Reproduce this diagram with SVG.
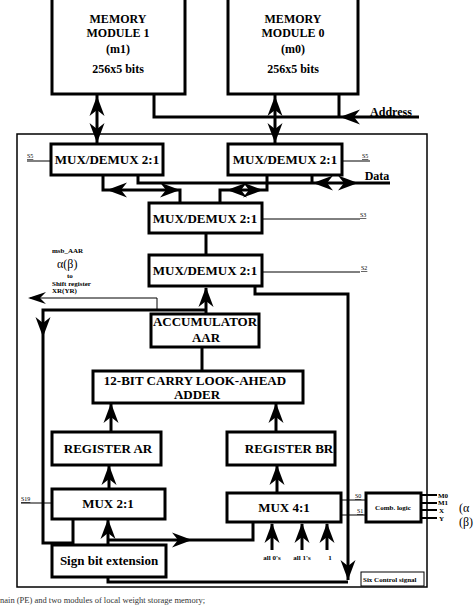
<svg xmlns="http://www.w3.org/2000/svg" xmlns:xlink="http://www.w3.org/1999/xlink" width="474" height="606" viewBox="0 0 474 606">
<defs>
<style>
.box{fill:#fff;stroke:#000;stroke-width:3}
.frame{fill:none;stroke:#000;stroke-width:1.5}
.c{fill:none;stroke:#000;stroke-width:3}
.t{fill:none;stroke:#000;stroke-width:1}
.m{fill:none;stroke:#000;stroke-width:2.2}
.lb{font-family:"Liberation Serif",serif;font-weight:bold;font-size:13px;text-anchor:middle;fill:#000}
.mm{font-family:"Liberation Serif",serif;font-weight:bold;font-size:12px;text-anchor:middle;fill:#000}
.sm{font-family:"Liberation Serif",serif;font-weight:bold;font-size:7px;fill:#000}
.sg{font-family:"Liberation Serif",serif;font-size:6px;fill:#000;text-decoration:underline}
.gr{font-family:"Liberation Serif",serif;font-size:12px;fill:#000}
</style>
<path id="ah" d="M0,0 L-20,-7.5 L-14,0 L-20,7.5 Z" fill="#000"/>
<path id="ahs" d="M0,0 L-18,-6 L-12,0 L-18,6 Z" fill="#000"/>
</defs>
<rect width="474" height="606" fill="#fff"/>

<g id="frame">
<rect class="frame" x="17" y="134" width="410" height="453"/>
</g>

<g id="connectors">
<path class="c" d="M97,94 V143"/>
<use xlink:href="#ah" transform="translate(97,96) rotate(-90)"/>
<use xlink:href="#ah" transform="translate(97,143) rotate(90)"/>
<path class="c" d="M275,94 V143"/>
<use xlink:href="#ah" transform="translate(275,96) rotate(-90)"/>
<use xlink:href="#ah" transform="translate(275,143) rotate(90)"/>
<path class="c" d="M154,94 V117 H419 M339,94 V117"/>
<use xlink:href="#ah" transform="translate(340,117) rotate(180)"/>
<path class="c" d="M103,175 V190 H180 V203"/>
<use xlink:href="#ah" transform="translate(107,190) rotate(180)"/>
<use xlink:href="#ah" transform="translate(180,190)"/>
<path class="c" d="M138,175 V183 H390 M312,175 V183"/>
<path class="c" d="M267,175 V190 H220 V203"/>
<use xlink:href="#ah" transform="translate(227,190) rotate(180)"/>
<use xlink:href="#ah" transform="translate(263,190)"/>
<use xlink:href="#ah" transform="translate(313,183) rotate(180)"/>
<use xlink:href="#ah" transform="translate(358,183)"/>
<path class="c" d="M206,233 V255"/>
<path class="c" d="M206,314 V288"/>
<use xlink:href="#ah" transform="translate(206,287) rotate(-90)"/>
<path class="c" d="M206,310 H43 V543 H73 V519"/>
<use xlink:href="#ah" transform="translate(43,337) rotate(90)"/>
<path class="t" d="M157,310 V298 H30"/>
<use xlink:href="#ahs" transform="translate(28,298) rotate(180)"/>
<path class="c" d="M255,286 V294 H348 V580"/>
<use xlink:href="#ah" transform="translate(348,580) rotate(90)"/>
<path class="c" d="M108,577 V582 H348"/>
<path class="c" d="M202,347 V371"/>
<path class="c" d="M111,432 V404"/>
<use xlink:href="#ah" transform="translate(111,403) rotate(-90)"/>
<path class="c" d="M276,432 V404"/>
<use xlink:href="#ah" transform="translate(276,403) rotate(-90)"/>
<path class="c" d="M109,489 V466"/>
<use xlink:href="#ah" transform="translate(109,465) rotate(-90)"/>
<path class="c" d="M277,493 V466"/>
<use xlink:href="#ah" transform="translate(277,465) rotate(-90)"/>
<path class="c" d="M108,545 V520"/>
<use xlink:href="#ah" transform="translate(108,519) rotate(-90)"/>
<path class="c" d="M108,540 H253 V522"/>
<use xlink:href="#ah" transform="translate(192,540)"/>
<path class="c" d="M272,550 V524 M302,550 V524 M327,550 V524"/>
<use xlink:href="#ah" transform="translate(272,523) rotate(-90)"/>
<use xlink:href="#ah" transform="translate(302,523) rotate(-90)"/>
<use xlink:href="#ah" transform="translate(327,523) rotate(-90)"/>
<path class="t" d="M27,161 H51 M342,161 H370 M262,219 H360 M262,272 H360 M21,503 H52 M341,500 H366 M341,515 H366"/>
<path class="m" d="M421,495 H437 M421,503 H437 M421,510 H437 M421,518 H437"/>
</g>

<g id="mem1">
<rect class="box" x="52" y="-3" width="133" height="97"/>
<text class="mm" x="118" y="23">MEMORY</text>
<text class="mm" x="118" y="37">MODULE 1</text>
<text class="mm" x="118" y="53">(m1)</text>
<text class="mm" x="118" y="73">256x5 bits</text>
</g>
<g id="mem0">
<rect class="box" x="228" y="-3" width="130" height="97"/>
<text class="mm" x="293" y="23">MEMORY</text>
<text class="mm" x="293" y="37">MODULE 0</text>
<text class="mm" x="293" y="53">(m0)</text>
<text class="mm" x="293" y="73">256x5 bits</text>
</g>
<g id="address">
<text class="mm" x="391" y="116">Address</text>
</g>
<g id="data">
<text class="mm" x="377" y="180">Data</text>
</g>
<g id="muxL">
<rect class="box" x="51" y="144" width="112" height="31"/>
<text class="lb" x="107" y="164">MUX/DEMUX 2:1</text>
<text class="sg" x="27" y="158">S5</text>
</g>
<g id="muxR">
<rect class="box" x="228" y="144" width="114" height="31"/>
<text class="lb" x="285" y="164">MUX/DEMUX 2:1</text>
<text class="sg" x="362" y="158">S5</text>
</g>
<g id="muxC">
<rect class="box" x="149" y="203" width="113" height="30"/>
<text class="lb" x="205" y="223">MUX/DEMUX 2:1</text>
<text class="sg" x="360" y="217">S3</text>
</g>
<g id="muxD">
<rect class="box" x="149" y="255" width="113" height="31"/>
<text class="lb" x="205" y="275">MUX/DEMUX 2:1</text>
<text class="sg" x="361" y="270">S2</text>
</g>
<g id="shiftlabel">
<text class="sm" x="52" y="253">msb_AAR</text>
<text class="gr" x="57" y="268">α(β)</text>
<text class="sm" x="67" y="278">to</text>
<text class="sm" x="52" y="286">Shift register</text>
<text class="sm" x="52" y="293">XR(YR)</text>
</g>
<g id="acc">
<rect class="box" x="151" y="314" width="108" height="33"/>
<text class="lb" x="205" y="326">ACCUMULATOR</text>
<text class="lb" x="206" y="342">AAR</text>
</g>
<g id="adder">
<rect class="box" x="93" y="371" width="210" height="32"/>
<text class="lb" x="195" y="385">12-BIT CARRY LOOK-AHEAD</text>
<text class="lb" x="197" y="399">ADDER</text>
</g>
<g id="regAR">
<rect class="box" x="52" y="432" width="109" height="33"/>
<text class="lb" x="108" y="453">REGISTER AR</text>
</g>
<g id="regBR">
<rect class="box" x="227" y="432" width="108" height="33"/>
<text class="lb" x="289" y="453">REGISTER BR</text>
</g>
<g id="mux21">
<rect class="box" x="52" y="489" width="113" height="30"/>
<text class="lb" x="108" y="508">MUX 2:1</text>
<text class="sg" x="21" y="501">S19</text>
</g>
<g id="mux41">
<rect class="box" x="227" y="493" width="114" height="29"/>
<text class="lb" x="284" y="512">MUX 4:1</text>
<text class="sg" x="355" y="498">S0</text>
<text class="sg" x="357" y="513">S1</text>
</g>
<g id="inputs">
<text class="sm" x="272" y="560" text-anchor="middle" font-size="6.5">all 0's</text>
<text class="sm" x="302" y="560" text-anchor="middle" font-size="6.5">all 1's</text>
<text class="sm" x="330" y="560" text-anchor="middle" font-size="6.5">1</text>
</g>
<g id="signext">
<rect class="box" x="52" y="545" width="114" height="32"/>
<text class="lb" x="109" y="565">Sign bit extension</text>
</g>
<g id="comb">
<rect class="box" x="366" y="493" width="55" height="29"/>
<text class="sm" x="393" y="510" text-anchor="middle" font-size="7.5">Comb. logic</text>
<text class="sm" x="438" y="498">M0</text>
<text class="sm" x="438" y="505">M1</text>
<text class="sm" x="439" y="513">X</text>
<text class="sm" x="439" y="521">Y</text>
<text class="gr" x="459" y="512" font-size="11">(α</text>
<text class="gr" x="459" y="526" font-size="11">(β)</text>
</g>
<g id="control">
<rect x="361" y="572" width="63" height="14" fill="#fff" stroke="#000" stroke-width="1"/>
<text class="sm" x="363" y="582" font-weight="normal" font-size="7">Six Control signal</text>
</g>
<text x="0" y="603" font-family="Liberation Serif, serif" font-size="8.5" fill="#333">nain (PE) and two modules of local weight storage memory;</text>
</svg>
